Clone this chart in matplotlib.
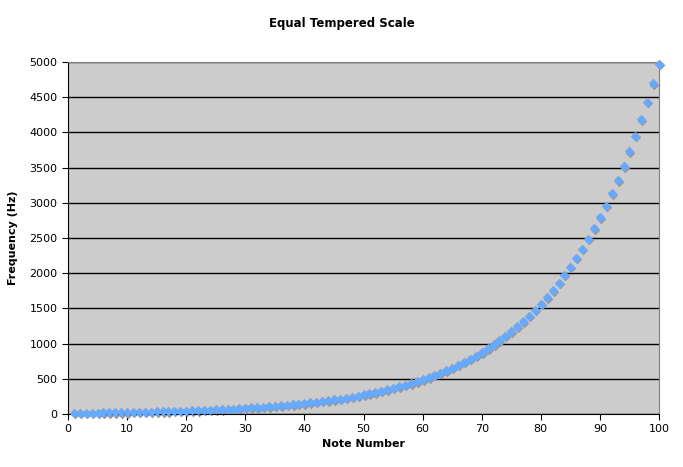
import matplotlib
matplotlib.use("Agg")
import matplotlib.pyplot as plt
import matplotlib.transforms as mtransforms

# note numbers 1..100, C0 .. D#8
notes = list(range(1, 101))
freqs = [
    16.35, 17.32, 18.35, 19.45, 20.60, 21.83, 23.12, 24.50, 25.96, 27.50, 29.14, 30.87,
    32.70, 34.65, 36.71, 38.89, 41.20, 43.65, 46.25, 49.00, 51.91, 55.00, 58.27, 61.74,
    65.41, 69.30, 73.42, 77.78, 82.41, 87.31, 92.50, 98.00, 103.83, 110.00, 116.54, 123.47,
    130.81, 138.59, 146.83, 155.56, 164.81, 174.61, 185.00, 196.00, 207.65, 220.00, 233.08, 246.94,
    261.63, 277.18, 293.66, 311.13, 329.63, 349.23, 369.99, 392.00, 415.30, 440.00, 466.16, 493.88,
    523.25, 554.37, 587.33, 622.25, 659.26, 698.46, 739.99, 783.99, 830.61, 880.00, 932.33, 987.77,
    1046.50, 1108.73, 1174.66, 1244.51, 1318.51, 1396.91, 1479.98, 1567.98, 1661.22, 1760.00, 1864.66, 1975.53,
    2093.00, 2217.46, 2349.32, 2489.02, 2637.02, 2793.83, 2959.96, 3135.96, 3322.44, 3520.00, 3729.31, 3951.07,
    4186.01, 4434.92, 4698.63, 4978.03,
]
xticks = [0, 10, 20, 30, 40, 50, 60, 70, 80, 90, 100]
yticks = [0, 500, 1000, 1500, 2000, 2500, 3000, 3500, 4000, 4500, 5000]

fig = plt.figure(figsize=(6.83, 4.67), dpi=100)
ax = fig.add_axes([68 / 683, 1 - 414 / 467, 591 / 683, 352 / 467])
ax.set_facecolor("#cccccc")
ax.set_xlim(0, 100)
ax.set_ylim(0, 5000)
ax.set_xticks(xticks)
ax.set_yticks(yticks)
ax.yaxis.grid(True, color="black", linewidth=1)
ax.set_axisbelow(True)

# little drop shadow under each diamond
shadow = mtransforms.offset_copy(ax.transData, fig=fig, x=1, y=-1.5, units="dots")
ax.scatter(notes, freqs, marker="D", s=24, color="#999999", linewidths=0,
           transform=shadow, clip_on=False, zorder=2)
ax.scatter(notes, freqs, marker="D", s=24, color="#66aaff", linewidths=0,
           clip_on=False, zorder=3)

for side in ["top", "right"]:
    ax.spines[side].set_color("#808080")
for side in ["left", "bottom"]:
    ax.spines[side].set_color("black")
ax.tick_params(direction="out", length=4, labelsize=8, colors="black")

ax.set_xlabel("Note Number", fontsize=8, fontweight="bold", labelpad=3)
ax.set_ylabel("Frequency (Hz)", fontsize=8, fontweight="bold", labelpad=8)
fig.text(0.5, 1 - 24 / 467, "Equal Tempered Scale",
         ha="center", va="center", fontsize=8.5, fontweight="bold")

fig.savefig("out.png", dpi=100)
